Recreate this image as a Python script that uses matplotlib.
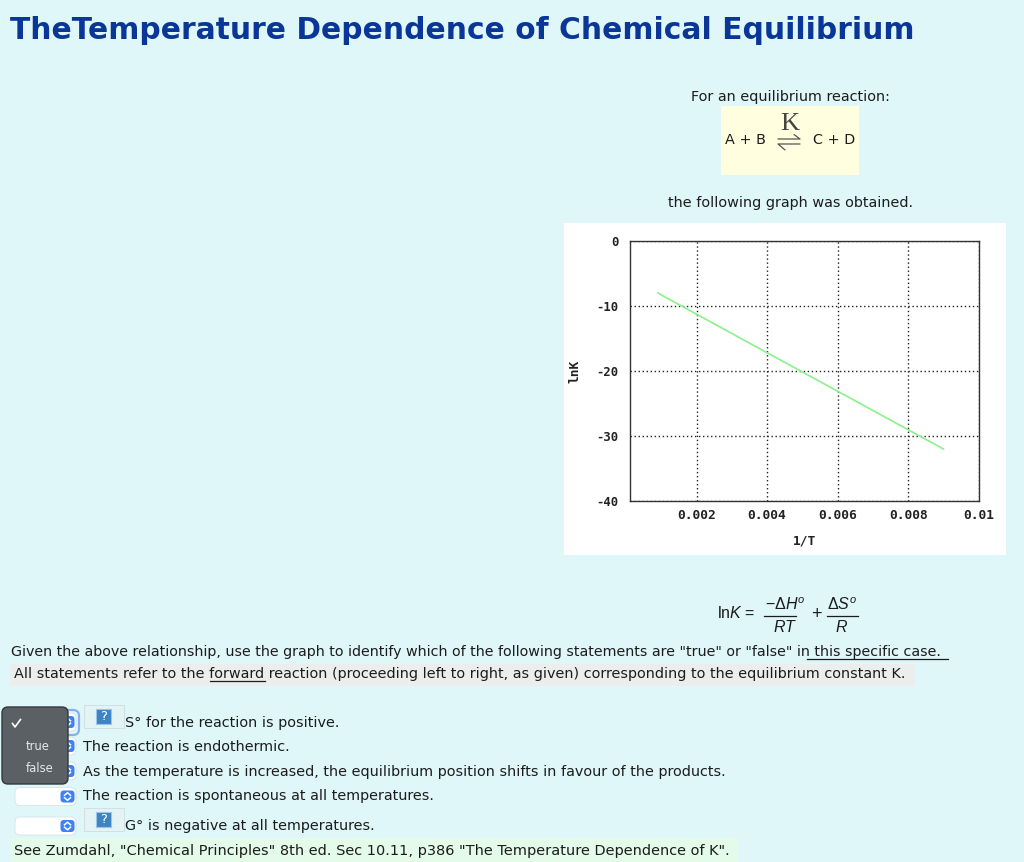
import matplotlib
matplotlib.use("Agg")
import matplotlib.pyplot as plt
from matplotlib.patches import Rectangle, FancyBboxPatch

# ---- data ----
x_values = [0.0009, 0.009]
lnk_values = [-8, -32]
x_ticks = [0.002, 0.004, 0.006, 0.008, 0.01]
x_tick_labels = ["0.002", "0.004", "0.006", "0.008", "0.01"]
y_ticks = [0, -10, -20, -30, -40]
y_tick_labels = ["0", "-10", "-20", "-30", "-40"]
menu_items = ["true", "false"]
statements = [
    "S° for the reaction is positive.",
    "The reaction is endothermic.",
    "As the temperature is increased, the equilibrium position shifts in favour of the products.",
    "The reaction is spontaneous at all temperatures.",
    "G° is negative at all temperatures.",
]

plt.rcParams["mathtext.fontset"] = "custom"
plt.rcParams["mathtext.rm"] = "Liberation Sans"
plt.rcParams["mathtext.it"] = "Liberation Sans:italic"

W, H = 1024, 862
BG = "#E0F7FA"
TXT = "#1c1c1c"
fig = plt.figure(figsize=((W + 0.01) / 100, (H + 0.01) / 100), dpi=100, facecolor=BG)

# page overlay in pixel coordinates
pg = fig.add_axes([0, 0, 1, 1], zorder=0)
pg.set_xlim(0, W); pg.set_ylim(H, 0); pg.axis("off")

def rect(x0, y0, x1, y1, **kw):
    pg.add_patch(Rectangle((x0, y0), x1 - x0, y1 - y0, linewidth=kw.pop("lw", 0), **kw))

def rrect(x0, y0, x1, y1, r, **kw):
    pg.add_patch(FancyBboxPatch((x0 + r, y0 + r), x1 - x0 - 2 * r, y1 - y0 - 2 * r,
                                boxstyle=f"round,pad={r},rounding_size={r}", **kw))

def txt(x, y, s, size=10.35, color=TXT, ha="left", va="center", family="DejaVu Sans", **kw):
    return pg.text(x, y, s, fontsize=size, color=color, ha=ha, va=va, family=family, **kw)

# title
txt(10, 30, "TheTemperature Dependence of Chemical Equilibrium", size=21.4, color="#0A3797",
    weight="bold")

# reaction header
txt(790, 96.5, "For an equilibrium reaction:", ha="center", size=10.4)
rect(721, 106, 859, 175, facecolor="#FFFFE0")
txt(725, 140, "A + B", size=10.4)
txt(813, 140, "C + D", size=10.4)
txt(790, 124, "K", size=19, family="Liberation Serif", color="#444444", ha="center")
# equilibrium arrows
for xs, ys in (([778, 800, 794], [139, 139, 134.5]), ([800, 778, 785], [144, 144, 150])):
    pg.plot(xs, ys, color="#555555", lw=0.9, solid_capstyle="round")
txt(790, 203, "the following graph was obtained.", ha="center", size=10.4)

# white panel behind the plot
rect(564, 223, 1006, 555, facecolor="white")

# plot (gnuplot look)
L, R, T, B = 629.5, 978.7, 241, 501
ax = fig.add_axes([L / W, 1 - B / H, (R - L) / W, (B - T) / H], zorder=2, facecolor="white")
ax.set_xlim(0.0001, 0.01)
ax.set_ylim(-40, 0)
ax.plot(x_values, lnk_values, color="#8CF08C", lw=1.2, zorder=3)
ax.set_xticks(x_ticks, x_tick_labels)
ax.set_yticks(y_ticks, y_tick_labels)
ax.grid(True, color="#222222", lw=1.0, linestyle=(0, (1, 1.9)))
ax.set_axisbelow(True)
for sp in ax.spines.values():
    sp.set_color("#333333"); sp.set_linewidth(1.0)
ax.tick_params(length=0, labelsize=9.3, colors="#222222")
for lab in ax.get_xticklabels() + ax.get_yticklabels():
    lab.set_family("DejaVu Sans Mono"); lab.set_weight("bold")
ax.tick_params(axis="x", pad=6)
ax.tick_params(axis="y", pad=8, labelsize=8.8)
ax.set_xlabel("1/T", family="DejaVu Sans Mono", weight="bold", fontsize=9.3, color="#222222", labelpad=9)
ax.set_ylabel("lnK", family="DejaVu Sans Mono", weight="bold", fontsize=9.3, color="#222222", labelpad=11)

# formula
FS = 11.5
txt(717, 613, r"ln$\mathit{K}$ =", size=FS, family="Liberation Sans")
txt(785, 605, r"$-\Delta \mathit{H}^{o}$", size=FS, ha="center", family="Liberation Sans")
txt(785, 627, r"$\mathit{RT}$", size=FS, ha="center", family="Liberation Sans")
pg.plot([764, 796], [616, 616], color=TXT, lw=0.9)
txt(816, 614, "+", size=13, ha="center", family="Liberation Sans")
txt(842, 605, r"$\Delta \mathit{S}^{o}$", size=FS, ha="center", family="Liberation Sans")
txt(842, 627, r"$\mathit{R}$", size=FS, ha="center", family="Liberation Sans")
pg.plot([827, 858], [616, 616], color=TXT, lw=0.9)

# paragraph
txt(11, 652, 'Given the above relationship, use the graph to identify which of the following statements are "true" or "false" in this specific case.', size=10.31)
pg.plot([807, 948], [659.5, 659.5], color=TXT, lw=0.9)
rect(10, 664, 915, 686, facecolor="#ECEEEE")
txt(14, 674, "All statements refer to the forward reaction (proceeding left to right, as given) corresponding to the equilibrium constant K.", size=10.37)
pg.plot([210, 265], [681.5, 681.5], color=TXT, lw=0.9)

# selects
select_rows = [722, 746, 771, 796.5, 826]
for yc in select_rows:
    rrect(15, yc - 9, 76, yc + 9, 5, facecolor="white", edgecolor="#D5E3E8", lw=0.6, zorder=2)
    rrect(60.5, yc - 6, 74.5, yc + 6, 3.5, facecolor="#3B82F6", edgecolor="none", zorder=3)
    pg.plot([64.5, 67.5, 70.5], [yc - 1.2, yc - 3.8, yc - 1.2], color="white", lw=1.1, zorder=4)
    pg.plot([64.5, 67.5, 70.5], [yc + 1.2, yc + 3.8, yc + 1.2], color="white", lw=1.1, zorder=4)
rrect(59, 710, 79, 735, 6, facecolor="none", edgecolor="#86AEF0", lw=1.6, zorder=2)

# help icons
for y0 in (705, 808):
    rect(83.5, y0, 124, y0 + 23, facecolor="#E3F3F6", edgecolor="#CFDDE0", lw=0.6)
    rect(96, y0 + 4, 110.5, y0 + 19, facecolor="#3C84C4", edgecolor="#9CC4E4", lw=0.8)
    pg.text(103.2, y0 + 11.5, "?", fontsize=9.5, color="white", ha="center", va="center", family="DejaVu Sans")

# statements
for x0, yc, s in zip((124.5, 83, 83, 83, 124.5), (723, 747, 771.5, 796, 826), statements):
    txt(x0, yc, s, size=10.36)

# popup menu
rrect(2, 707, 68, 784, 6, facecolor="#5A6064", edgecolor="#33383A", lw=1, zorder=6)
pg.plot([12.5, 15, 20.5], [723.5, 727, 719.5], color="white", lw=1.2, zorder=7)
for yc, s in zip((746, 768), menu_items):
    pg.text(26, yc, s, fontsize=8.4, color="#E8E8E8", ha="left", va="center", zorder=7, family="DejaVu Sans")

# reference note
rect(11, 838, 737, 862, facecolor="#E4FBEA")
txt(14, 851, 'See Zumdahl, "Chemical Principles" 8th ed. Sec 10.11, p386 "The Temperature Dependence of K".', size=10.43)

fig.savefig("out.png", dpi=100, facecolor=BG)
